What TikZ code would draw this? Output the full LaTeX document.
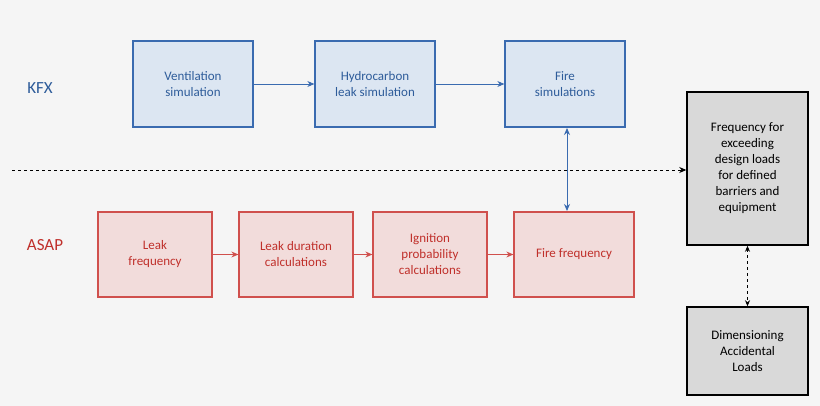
\documentclass[tikz,border=0pt]{standalone}
\usepackage{fontspec}
\setmainfont{Carlito}
\usetikzlibrary{arrows.meta}
\definecolor{bg}{HTML}{F5F5F5}
\definecolor{bfill}{HTML}{DCE6F2}
\definecolor{bdraw}{HTML}{3A6BB0}
\definecolor{btext}{HTML}{2E5C9A}
\definecolor{rfill}{HTML}{F2DCDB}
\definecolor{rdraw}{HTML}{D0504D}
\definecolor{rtext}{HTML}{C0302B}
\definecolor{gfill}{HTML}{D9D9D9}
\tikzset{
  bbox/.style={draw=bdraw,fill=bfill,line width=1.3pt,text=btext,minimum width=120pt,minimum height=86pt,align=center,font=\fontsize{13}{16}\selectfont},
  rbox/.style={draw=rdraw,fill=rfill,line width=1.3pt,text=rtext,minimum width=114pt,minimum height=85pt,align=center,font=\fontsize{13}{16}\selectfont},
  gbox/.style={draw=black,fill=gfill,line width=1.5pt,text=black,minimum width=121pt,align=center,font=\fontsize{13}{16}\selectfont},
  barrow/.style={draw=bdraw,line width=0.9pt,-{Stealth[length=7pt,width=6pt]}},
  rarrow/.style={draw=rdraw,line width=0.9pt,-{Stealth[length=7pt,width=6pt]}},
}
\begin{document}
\begin{tikzpicture}[x=1pt,y=-1pt]
\fill[bg] (0,0) rectangle (820,406);
\useasboundingbox (0,0) rectangle (820,406);
\node[text=btext,font=\fontsize{17}{20}\selectfont] (kfx) at (40,88) {KFX};
\node[text=rtext,font=\fontsize{17}{20}\selectfont] (asap) at (45,245) {ASAP};
\node[bbox] (v) at (193,84) {Ventilation\\simulation};
\node[bbox] (h) at (375,84) {Hydrocarbon\\leak simulation};
\node[bbox] (f) at (565,84) {Fire\\simulations};
\node[rbox] (l) at (155,254.5) {Leak\\frequency};
\node[rbox] (d) at (296,254.5) {Leak duration\\calculations};
\node[rbox] (i) at (430,254.5) {Ignition\\probability\\calculations};
\node[rbox,minimum width=120pt] (ff) at (574,254.5) {Fire frequency};
\node[gbox,minimum height=153pt] (g) at (747.5,168.5) {Frequency for\\exceeding\\design loads\\for defined\\barriers and\\equipment};
\node[gbox,minimum height=88pt] (dal) at (747.5,351) {Dimensioning\\Accidental\\Loads};
\draw[barrow] (v) -- (h);
\draw[barrow] (h) -- (f);
\draw[rarrow] (l) -- (d);
\draw[rarrow] (d) -- (i);
\draw[rarrow] (i) -- (ff);
\draw[draw=bdraw,line width=0.9pt,{Stealth[length=7pt,width=6pt]}-{Stealth[length=7pt,width=6pt]}] (567,128) -- (567,211);
\coordinate (ds) at (12,170);
\draw[dashed,line width=0.8pt,-{Stealth[length=7pt,width=6pt]}] (ds) -- (g.west|-ds);
\draw[dashed,line width=0.8pt,{Stealth[length=6pt,width=5pt]}-{Stealth[length=6pt,width=5pt]}] (g.south) -- (dal.north);
\end{tikzpicture}
\end{document}
